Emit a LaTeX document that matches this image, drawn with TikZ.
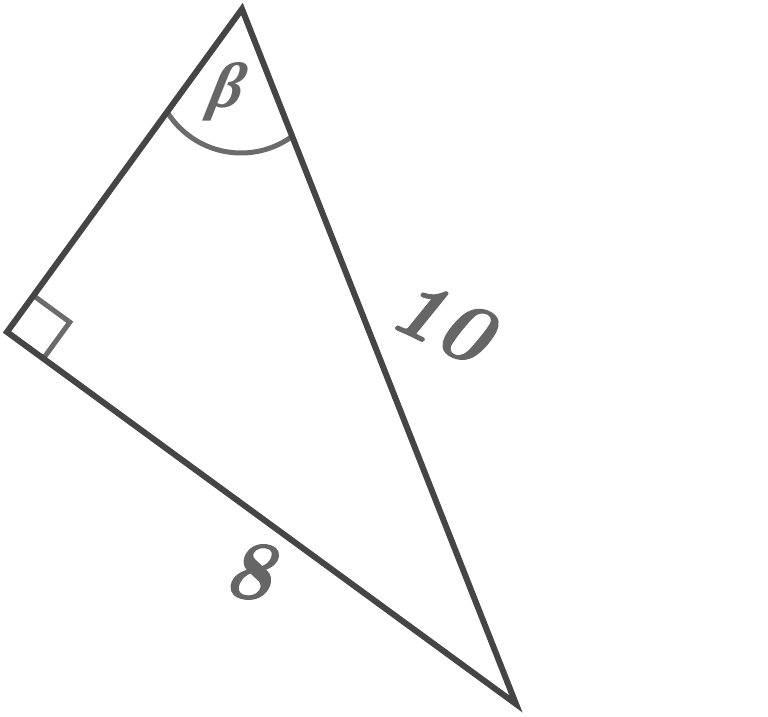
\documentclass[tikz,border=0pt]{standalone}
\usepackage{fontspec}
\newfontfamily\digfont{Latin Modern Roman}[BoldItalicFeatures={FakeBold=1.2}]
\newfontfamily\grfont{Liberation Serif}[BoldItalicFeatures={FakeSlant=0.22}]
\usetikzlibrary{calc}
\begin{document}
\begin{tikzpicture}[x=1pt,y=-1pt,
  side/.style={draw=black!73, line width=6pt, line join=miter},
  marker/.style={draw=black!58, line width=5pt},
  lbl/.style={text=black!60, inner sep=0pt, font=\fontsize{84}{84}\selectfont\digfont\bfseries\itshape}]
\useasboundingbox (0,0) rectangle (768,716);
\coordinate (T) at (242,9);
\coordinate (L) at (7,332);
\coordinate (B) at (516,704);
% right angle marker
\coordinate (R1) at ($(L)!45pt!(T)$);
\coordinate (R3) at ($(L)!45pt!(B)$);
\draw[marker] (R1) -- ($(R1)+(R3)-(L)$) -- (R3);
% angle arc
\coordinate (AC) at (241,66);
\draw[marker] (AC) ++(147.2:87) arc[start angle=147.2, end angle=55.4, radius=87];
% triangle
\draw[side] (T) -- (L) -- (B) -- cycle;
% labels
\node[lbl, rotate=-25] (ten) at (442,321) {10};
\node[lbl, rotate=-8] (eight) at (249,571) {8};
\node[lbl, font=\fontsize{64}{64}\selectfont\grfont\bfseries\itshape] (beta) at (224,92) {β};
\end{tikzpicture}
\end{document}
